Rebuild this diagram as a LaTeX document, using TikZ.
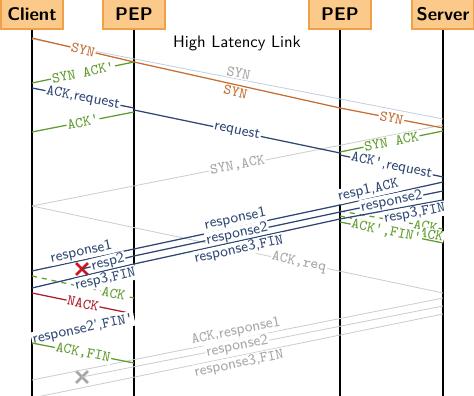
\documentclass[tikz,border=0pt]{standalone}
\usetikzlibrary{shapes.misc}
\definecolor{hdrfill}{RGB}{251,202,139}
\definecolor{hdrdraw}{RGB}{240,160,70}
\definecolor{synor}{RGB}{196,110,50}
\definecolor{ackgr}{RGB}{95,155,45}
\definecolor{reqbl}{RGB}{45,70,115}
\definecolor{nackrd}{RGB}{170,30,40}
\definecolor{lostrd}{RGB}{210,20,30}
\definecolor{glin}{RGB}{205,205,205}
\definecolor{gblu}{RGB}{195,208,225}
\definecolor{glab}{RGB}{165,165,165}
\begin{document}
\begin{tikzpicture}[x=0.6pt,y=-0.6pt,
  hdr/.style={draw=hdrdraw, fill=hdrfill, line width=0.8pt, minimum width=37.2pt, minimum height=18pt, inner sep=0pt, font=\fontsize{11}{12}\selectfont\sffamily\bfseries},
  life/.style={line width=1.2pt},
  msg/.style={line width=0.75pt},
  gmsg/.style={line width=0.5pt, draw=glin},
  lbl/.style={sloped, fill=white, inner sep=0.6pt, font=\fontsize{9}{10}\selectfont\sffamily},
  glbl/.style={lbl, text=glab},
  lost/.style={cross out, draw, line width=1.6pt, minimum size=5.5pt, inner sep=0pt}
]
\useasboundingbox (0,0) rectangle (474,396);
% headers
\node[hdr] (client) at (32,14) {Client};
\node[hdr] (pep1) at (134,14) {PEP};
\node[hdr] (pep2) at (340,14) {PEP};
\node[hdr] (server) at (443,14) {Server};
\coordinate (bot) at (0,398);
\draw[life] (client.south) -- (client.south |- bot);
\draw[life] (pep1.south) -- (pep1.south |- bot);
\draw[life] (pep2.south) -- (pep2.south |- bot);
\draw[life] (server.south) -- (server.south |- bot);
\node[font=\fontsize{10}{12}\selectfont\sffamily] (title) at (237,43) {High Latency Link};

% grey direct connection
\coordinate (g1a) at (32,39);   \coordinate (g1b) at (443,119);
\coordinate (g2a) at (32,206);  \coordinate (g2b) at (443,125);
\coordinate (g3a) at (32,206);  \coordinate (g3b) at (443,293);
\coordinate (g4a) at (32,380);  \coordinate (g4b) at (443,298);
\coordinate (g5b) at (443,306);
\coordinate (g6a) at (32,398);  \coordinate (g6b) at (443,314);
\draw[gmsg, draw=gblu] (g1a) -- node[glbl, above, pos=.5] (tg1) {\texttt{SYN}} (g1b);
\draw[gmsg] (g2a) -- node[glbl, pos=.5] (tg2) {\texttt{SYN,ACK}} (g2b);
\draw[gmsg] (g3a) -- node[glbl, pos=.65] (tg3) {\texttt{ACK,req}} (g3b);
\node[lost, draw=glab] (xg) at (82,377) {};
\draw[gmsg] (g4a) -- node[glbl, above, pos=.5] (tg4) {\texttt{ACK},response1} (g4b);
\draw[gmsg] (xg.center) -- node[glbl, pos=.43] (tg5) {response2} (g5b);
\draw[gmsg] (g6a) -- node[glbl, below, pos=.5] (tg6) {response3,\texttt{FIN}} (g6b);

% handshake with PEPs
\coordinate (o1a) at (32,38);   \coordinate (o1b) at (134,62);
\coordinate (o2b) at (340,108); \coordinate (o3b) at (443,128);
\draw[msg, synor] (o1a) -- node[lbl, pos=.5] (to1) {\texttt{SYN}} (o1b);
\draw[msg, synor] (o1b) -- node[lbl, below=0.5pt, pos=.5] (to2) {\texttt{SYN}} (o2b);
\draw[msg, synor] (o2b) -- node[lbl, pos=.5] (to3) {\texttt{SYN}} (o3b);

\coordinate (a1a) at (32,83);   \coordinate (a1b) at (134,62);
\draw[msg, ackgr] (a1a) -- node[lbl, pos=.5] (ta1) {\texttt{SYN ACK'}} (a1b);
\coordinate (b1a) at (32,88);   \coordinate (b1b) at (134,108);
\draw[msg, reqbl] (b1a) -- node[lbl, pos=.5] (tb1) {\texttt{ACK},request} (b1b);
\coordinate (a2a) at (32,132);  \coordinate (a2b) at (134,112);
\draw[msg, ackgr] (a2a) -- node[lbl, pos=.5] (ta2) {\texttt{ACK'}} (a2b);
\coordinate (b2a) at (134,110); \coordinate (b2b) at (340,153);
\draw[msg, reqbl] (b2a) -- node[lbl, pos=.5] (tb2) {request} (b2b);
\coordinate (a3a) at (340,152); \coordinate (a3b) at (443,131);
\draw[msg, ackgr] (a3a) -- node[lbl, pos=.5] (ta3) {\texttt{SYN ACK}} (a3b);
\coordinate (b3a) at (340,155); \coordinate (b3b) at (443,177);
\draw[msg, reqbl] (b3a) -- node[lbl, pos=.5] (tb3) {\texttt{ACK'},request} (b3b);

% responses server -> PEP2
\coordinate (q1) at (340,205); \coordinate (s1) at (443,182);
\coordinate (q2) at (340,212); \coordinate (s2) at (443,191);
\coordinate (q3) at (340,219); \coordinate (s3) at (443,200);
\coordinate (a4a) at (340,211); \coordinate (a4b) at (443,229);
\coordinate (a8a) at (340,216); \coordinate (a8b) at (443,237);
\coordinate (a5a) at (340,222); \coordinate (a5b) at (443,243);
\draw[msg, ackgr, dashed] (a4a) -- node[lbl, pos=.83] (ta4) {\texttt{ACK}} (a4b);
\draw[msg, ackgr, dashed] (a8a) -- node[lbl, pos=.89] (ta8) {\texttt{ACK}} (a8b);
\draw[msg, ackgr] (a5a) -- node[lbl, pos=.45] (ta5) {\texttt{ACK',FIN'}} (a5b);
\draw[msg, reqbl] (q1) -- node[lbl, above, pos=.29] (tr1) {resp1,\texttt{ACK}} (s1);
\draw[msg, reqbl] (q2) -- node[lbl, pos=.5] (tr2) {response2} (s2);
\draw[msg, reqbl] (q3) -- node[lbl, below, pos=.71] (tr3) {resp3,\texttt{FIN}} (s3);

% PEP2 -> PEP1
\coordinate (p1) at (134,249); \coordinate (p2) at (134,256); \coordinate (p3) at (134,264);
\draw[msg, reqbl] (p1) -- node[lbl, above, pos=.5] (tl1) {response1} (q1);
\draw[msg, reqbl] (p2) -- node[lbl, pos=.5] (tl2) {response2} (q2);
\draw[msg, reqbl] (p3) -- node[lbl, below, pos=.5] (tl3) {response3,\texttt{FIN}} (q3);

% PEP1 -> client
\coordinate (c1) at (32,271);
\draw[msg, reqbl] (c1) -- node[lbl, above, pos=.5] (tc1) {response1} (p1);
\node[lost, draw=lostrd] (xr) at (82,269) {};
\draw[msg, reqbl] (xr.center) -- node[lbl, pos=.5] (tc2) {resp2} (p2);
\coordinate (a6a) at (32,276); \coordinate (a6b) at (134,298);
\draw[msg, ackgr, dashed] (a6a) -- node[lbl, pos=.8] (ta6) {\texttt{ACK}} (a6b);
\coordinate (c3) at (32,288);
\draw[msg, reqbl] (c3) -- node[lbl, below, pos=.7] (tc3) {resp3,\texttt{FIN}} (p3);
\coordinate (n1a) at (32,293); \coordinate (n1b) at (134,314);
\draw[msg, nackrd] (n1a) -- node[lbl, pos=.5] (tn1) {\texttt{NACK}} (n1b);
\coordinate (c4a) at (32,340); \coordinate (c4b) at (134,318);
\draw[msg, reqbl] (c4a) -- node[lbl, pos=.5] (tc4) {response2',\texttt{FIN'}} (c4b);
\coordinate (a7a) at (32,343); \coordinate (a7b) at (134,363);
\draw[msg, ackgr] (a7a) -- node[lbl, pos=.5] (ta7) {\texttt{ACK,FIN}} (a7b);
\end{tikzpicture}
\end{document}
